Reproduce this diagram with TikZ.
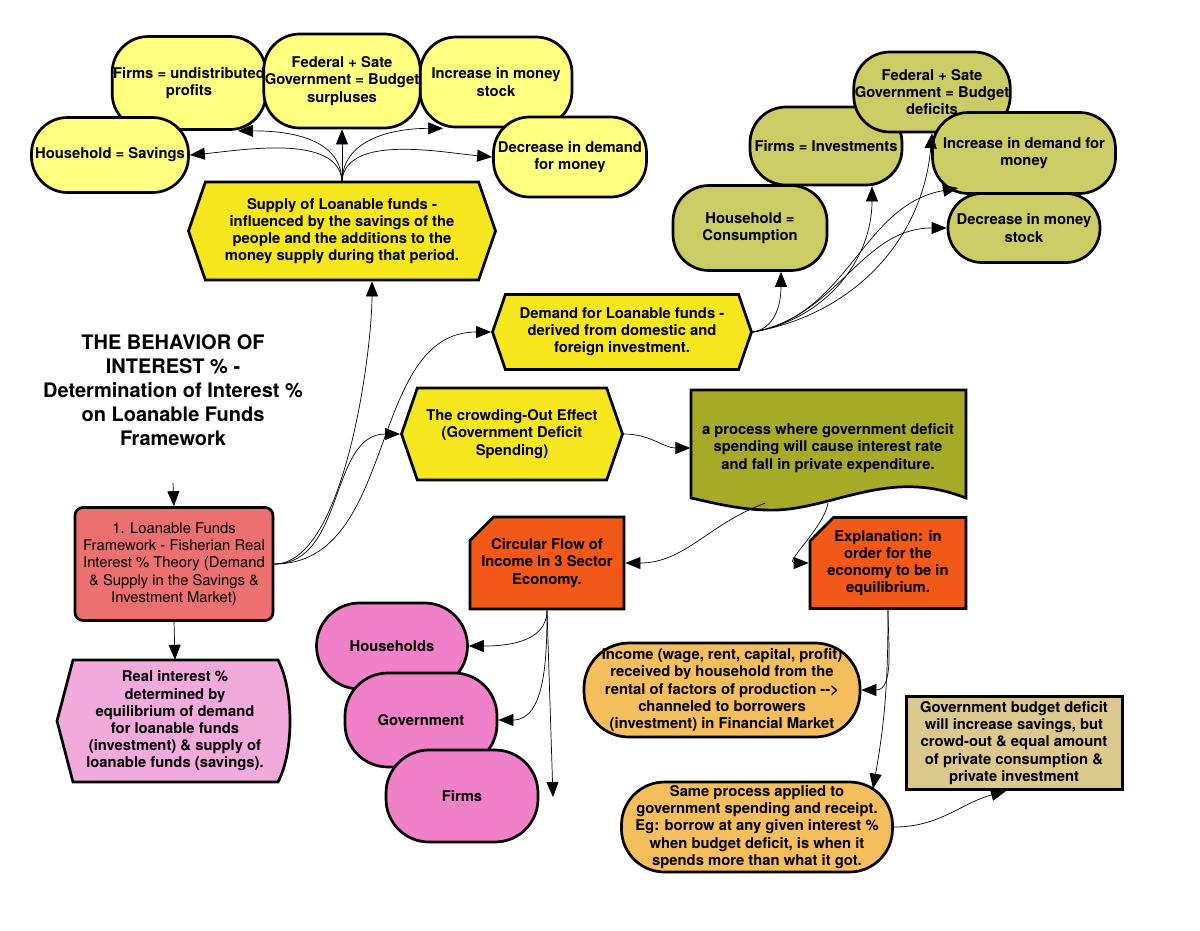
\documentclass[tikz,border=0pt]{standalone}
\usepackage{fontspec}
\setmainfont{TeX Gyre Heros}
\usetikzlibrary{arrows.meta,shapes.symbols,shapes.misc}
\definecolor{ly}{RGB}{255,255,128}
\definecolor{by}{RGB}{245,230,30}
\definecolor{oy}{RGB}{204,204,102}
\definecolor{od}{RGB}{166,170,38}
\definecolor{rs}{RGB}{236,112,112}
\definecolor{pl}{RGB}{242,170,220}
\definecolor{pk}{RGB}{240,128,200}
\definecolor{orr}{RGB}{242,88,22}
\definecolor{og}{RGB}{245,190,92}
\definecolor{tn}{RGB}{219,200,140}
\tikzset{% This is the style settings for nodes
    tx/.style={align=center, inner sep=1pt, font=\bfseries\fontsize{14.8}{17.2}\selectfont},
    b/.style={tx, rectangle, rounded corners=36pt, draw=black, line width=2.7pt},
    bb/.style={b, rounded corners=43pt},
    hx/.style={tx, signal, signal to=west and east, signal pointer angle=142, draw=black, line width=2.7pt},
    cr/.style={tx, chamfered rectangle, chamfered rectangle corners=north west, chamfered rectangle xsep=20pt, inner xsep=-9pt, draw=black, line width=2.7pt, fill=orr},
    e/.style={-{Stealth[length=15pt,width=12pt,inset=0pt]}, line width=0.7pt}}

\begin{document}
\begin{tikzpicture}[x=1pt,y=1pt]
  \useasboundingbox (0,0) rectangle (1200,-930);

  \node[b, fill=ly, minimum width=153pt, minimum height=93pt] (2) at (189,-83) {Firms = undistributed\\profits};
  \node[b, fill=ly, minimum width=152pt, minimum height=90pt] (4) at (496,-82) {Increase in money\\stock};
  \node[b, fill=ly, minimum width=152pt, minimum height=94pt] (3) at (342,-81) {Federal + Sate\\Government = Budget\\surpluses};
  \node[b, fill=ly, minimum width=157pt, minimum height=75pt] (1) at (110,-155) {Household = Savings};
  \node[b, fill=ly, minimum width=153pt, minimum height=80pt] (5) at (570,-157) {Decrease in demand\\for money};
  \node[hx, fill=by, minimum width=307pt, minimum height=98pt] (6) at (342,-231) {Supply of Loanable funds -\\influenced by the savings of the\\people and the additions to the\\money supply during that period.};

  \node[tx, font=\bfseries\fontsize{20}{24}\selectfont] (7) at (173,-390) {THE BEHAVIOR OF\\INTEREST \% -\\Determination of Interest \%\\on Loanable Funds\\Framework};
  \coordinate (a) at (173,-483);
  \node[tx, rectangle, rounded corners=8pt, draw=black, line width=2.7pt, fill=rs, font=\fontsize{14.8}{17.2}\selectfont, minimum width=198pt, minimum height=113pt] (8) at (174,-564) {1. Loanable Funds\\Framework - Fisherian Real\\Interest \% Theory (Demand\\\& Supply in the Savings \&\\Investment Market)};
  \draw[line width=2.7pt, fill=pl] (73,-660) -- (278,-660) .. controls (294,-690) and (294,-752) .. (278,-782) -- (73,-782) -- (57,-721) -- cycle;
  \node[tx, minimum width=221pt, minimum height=122pt] (9) at (175,-721) {Real interest \%\\determined by\\equilibrium of demand\\for loanable funds\\(investment) \& supply of\\loanable funds (savings).};

  \node[hx, fill=by, minimum width=259pt, minimum height=75pt] (10) at (622,-332) {Demand for Loanable funds -\\derived from domestic and\\foreign investment.};
  \node[b, fill=oy, minimum width=152pt, minimum height=78pt] (12) at (826,-146) {Firms = Investments};
  \node[b, fill=oy, minimum width=152pt, minimum height=80pt] (13) at (932,-92) {Federal + Sate\\Government = Budget\\deficits};
  \node[b, fill=oy, minimum width=183pt, minimum height=81pt] (14) at (1024,-153) {Increase in demand for\\money};
  \node[b, fill=oy, minimum width=152pt, minimum height=69pt, rounded corners=34pt] (15) at (1024,-228) {Decrease in money\\stock};
  \node[b, fill=oy, minimum width=154pt, minimum height=85pt] (11) at (750,-228) {Household =\\Consumption};

  \node[hx, fill=by, minimum width=221pt, minimum height=92pt] (16) at (512,-434) {The crowding-Out Effect\\(Government Deficit\\Spending)};
  \draw[line width=2.7pt, fill=od] (691,-390) -- (966,-390) -- (966,-498) .. controls (940,-488) and (920,-486) .. (899,-487) .. controls (850,-490) and (810,-512) .. (765,-510) .. controls (735,-509) and (710,-502) .. (691,-498) -- cycle;
  \node[tx, minimum width=275pt, minimum height=110pt] (17) at (828,-448) {a process where government deficit\\spending will cause interest rate\\and fall in private expenditure.};
  \node[cr, minimum width=154pt, minimum height=92pt] (18) at (547,-563) {Circular Flow of\\Income In 3 Sector\\Economy.};
  \node[cr, minimum width=156pt, minimum height=91pt] (19) at (888,-563) {Explanation: in\\order for the\\economy to be in\\equilibrium.};

  \node[bb, fill=pk, minimum width=151pt, minimum height=86pt] (20) at (392,-646) {Households};
  \node[bb, fill=pk, minimum width=152pt, minimum height=94pt] (21) at (421,-720) {Government};
  \node[bb, fill=pk, minimum width=152pt, minimum height=92pt] (22) at (462,-796) {Firms};
  \coordinate (b) at (553,-797);

  \node[bb, fill=og, minimum width=276pt, minimum height=94pt, rounded corners=45pt] (23) at (722,-690) {Income (wage, rent, capital, profit)\\received by household from the\\rental of factors of production -{}->\\channeled to borrowers\\(investment) in Financial Market};
  \node[bb, fill=og, minimum width=271pt, minimum height=90pt] (24) at (757,-827) {Same process applied to\\government spending and receipt.\\Eg: borrow at any given interest \%\\when budget deficit, is when it\\spends more than what it got.};
  \node[tx, rectangle, draw=black, line width=3pt, fill=tn, minimum width=216pt, minimum height=93pt] (25) at (1014,-743) {Government budget deficit\\will increase savings, but\\crowd-out \& equal amount\\of private consumption \&\\private investment};

  \draw[e] (6.north) to[out=95,in=5,looseness=0.8] (1.east);
  \draw[e] (6.north) to[out=92,in=0] ([xshift=49pt]2.south);
  \draw[e] (6.north) -- (3.south);
  \draw[e] (6.north) to[out=88,in=180] ([xshift=-53pt]4.south);
  \draw[e] (6.north) to[out=85,in=175,looseness=0.8] (5.west);
  \draw[e] (a) -- (8.north);
  \draw[e] (8.south) -- (9.north);
  \draw[e] (8.east) to[out=0,in=-90,looseness=0.6] ([xshift=30pt]6.south);
  \draw[e] (8.east) to[out=0,in=180] (16.west);
  \draw[e] (8.east) to[out=0,in=180] (10.west);
  \draw[e] (10.east) to[out=10,in=-90] ([xshift=31pt]11.south);
  \draw[e] (10.east) to[out=10,in=-90] ([xshift=46pt]12.south);
  \draw[e] (10.east) to[out=10,in=-95] (13.south);
  \draw[e] (10.east) to[out=10,in=190] ([xshift=-66pt,yshift=-35pt]14.center);
  \draw[e] (10.east) to[out=10,in=180] (15.west);
  \draw[e] (16.east) to[out=0,in=180] (17.west);
  \draw[e] ([xshift=-63pt]17.south) to[out=200,in=0] (18.east);
  \draw[e] (17.south) to[out=-100,in=180] (19.west);
  \draw[e] (18.south) to[out=-90,in=0] (20.east);
  \draw[e] (18.south) to[out=-90,in=0] (21.east);
  \draw[e] (18.south) -- (b);
  \draw[e] (19.south) to[out=-90,in=0] (23.east);
  \draw[e] (19.south) to[out=-90,in=80] ([xshift=116pt,yshift=-8pt]24.north);
  \draw[e] (24.east) to[out=0,in=195] ([xshift=-8pt]25.south);
\end{tikzpicture}
\end{document}
